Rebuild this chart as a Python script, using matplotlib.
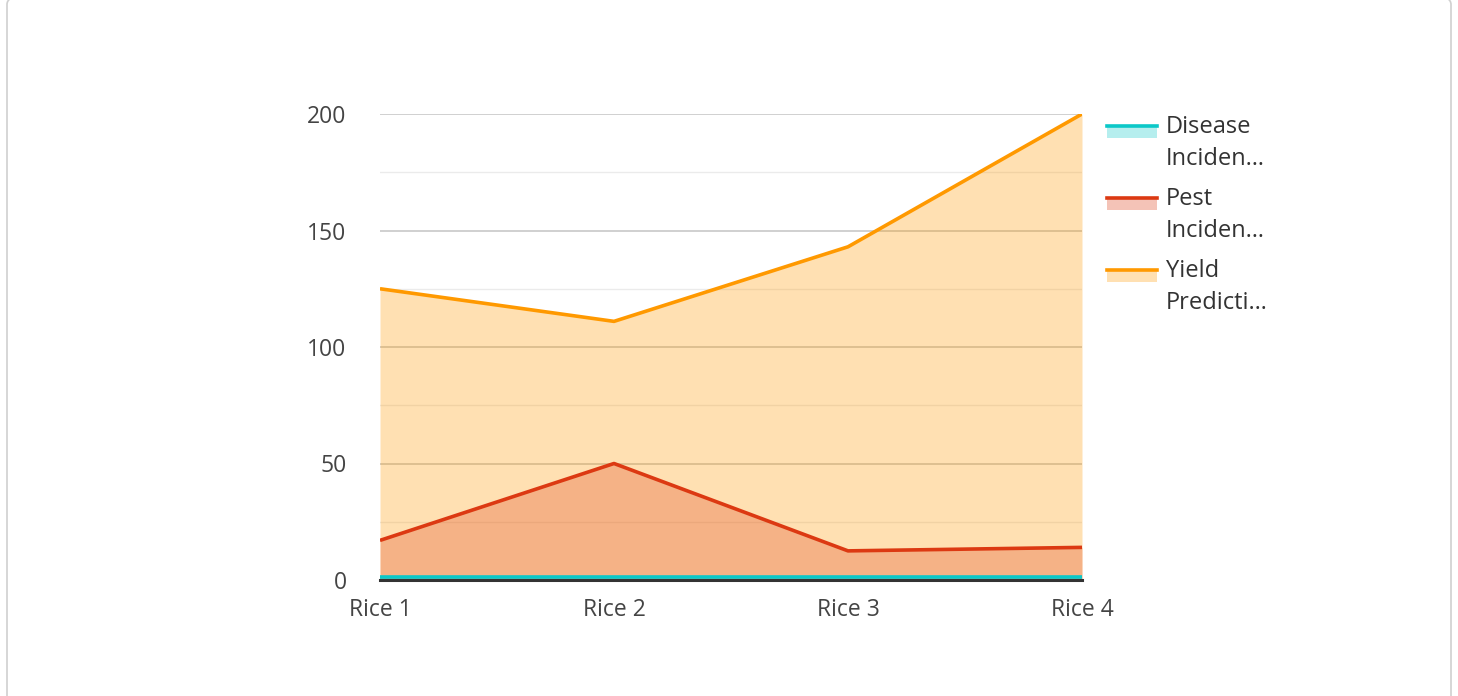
import matplotlib.pyplot as plt
from matplotlib.patches import FancyBboxPatch, Rectangle
from matplotlib.lines import Line2D

plt.rcParams['font.family'] = ['Open Sans', 'DejaVu Sans']

categories = ["Rice 1", "Rice 2", "Rice 3", "Rice 4"]
disease = [1.5, 1.5, 1.5, 1.5]
pest = [17, 50, 12.5, 14]
yield_pred = [125, 111, 143, 200]
legend_labels = ["Disease\nInciden…", "Pest\nInciden…", "Yield\nPredicti…"]
colors = ["#0BC8C8", "#DC3912", "#FF9900"]

fig = plt.figure(figsize=(14.58, 6.96), dpi=100)
W, H = 1458, 696

# outer card border
fig.patches.append(FancyBboxPatch((7 / W, -20 / H), 1444 / W, 720 / H,
                                  boxstyle="round,pad=0,rounding_size=0.012",
                                  transform=fig.transFigure, facecolor="white",
                                  edgecolor="#d0d0d0", linewidth=1.2, zorder=-5))

ax = fig.add_axes([380 / W, 1 - 580 / H, 702 / W, 466 / H])
ax.set_facecolor("none")
ax.set_zorder(2)
x = list(range(len(categories)))

# draw larger areas first so smaller ones sit on top
for vals, c, z, a in [(yield_pred, colors[2], 2, 0.3), (pest, colors[1], 3, 0.27),
                      (disease, colors[0], 4, 0.3)]:
    ax.fill_between(x, 0, vals, color=c, alpha=a, linewidth=0, zorder=z)
    ax.plot(x, vals, color=c, linewidth=2.6, zorder=z + 0.5, solid_capstyle="butt")

ax.set_xlim(0, 3)
ax.set_ylim(0, 200)
ax.set_yticks([0, 50, 100, 150, 200])
ax.set_yticks([25, 75, 125, 175], minor=True)
ax.grid(axis="y", which="major", color="#c8c8c8", linewidth=1.2, zorder=1)
ax.grid(axis="y", which="minor", color="#ebebeb", linewidth=1, zorder=1)
ax.set_axisbelow(True)
ax.axhline(0, color="#333333", linewidth=2.2, zorder=6, clip_on=False)

ax.set_xticks(x)
ax.set_xticklabels(categories)
for s in ax.spines.values():
    s.set_visible(False)
ax.tick_params(axis="both", which="both", length=0, labelsize=16.5, labelcolor="#444444")
ax.tick_params(axis="y", pad=24)
ax.tick_params(axis="x", pad=13)

# legend drawn by hand
ly = [125, 197, 269]
for lab, c, yy in zip(legend_labels, colors, ly):
    fig.patches.append(Rectangle((1107 / W, 1 - (yy + 13) / H), 50 / W, 12 / H,
                                 transform=fig.transFigure, facecolor=c, alpha=0.3,
                                 edgecolor="none"))
    fig.lines.append(Line2D([1107 / W, 1157 / W], [1 - (yy + 1) / H] * 2,
                            transform=fig.transFigure, color=c, linewidth=2.6))
    fig.text(1166 / W, 1 - (yy - 10) / H, lab, fontsize=17, color="#333333",
             va="top", ha="left", linespacing=1.45)

fig.savefig("out.png", dpi=100)
